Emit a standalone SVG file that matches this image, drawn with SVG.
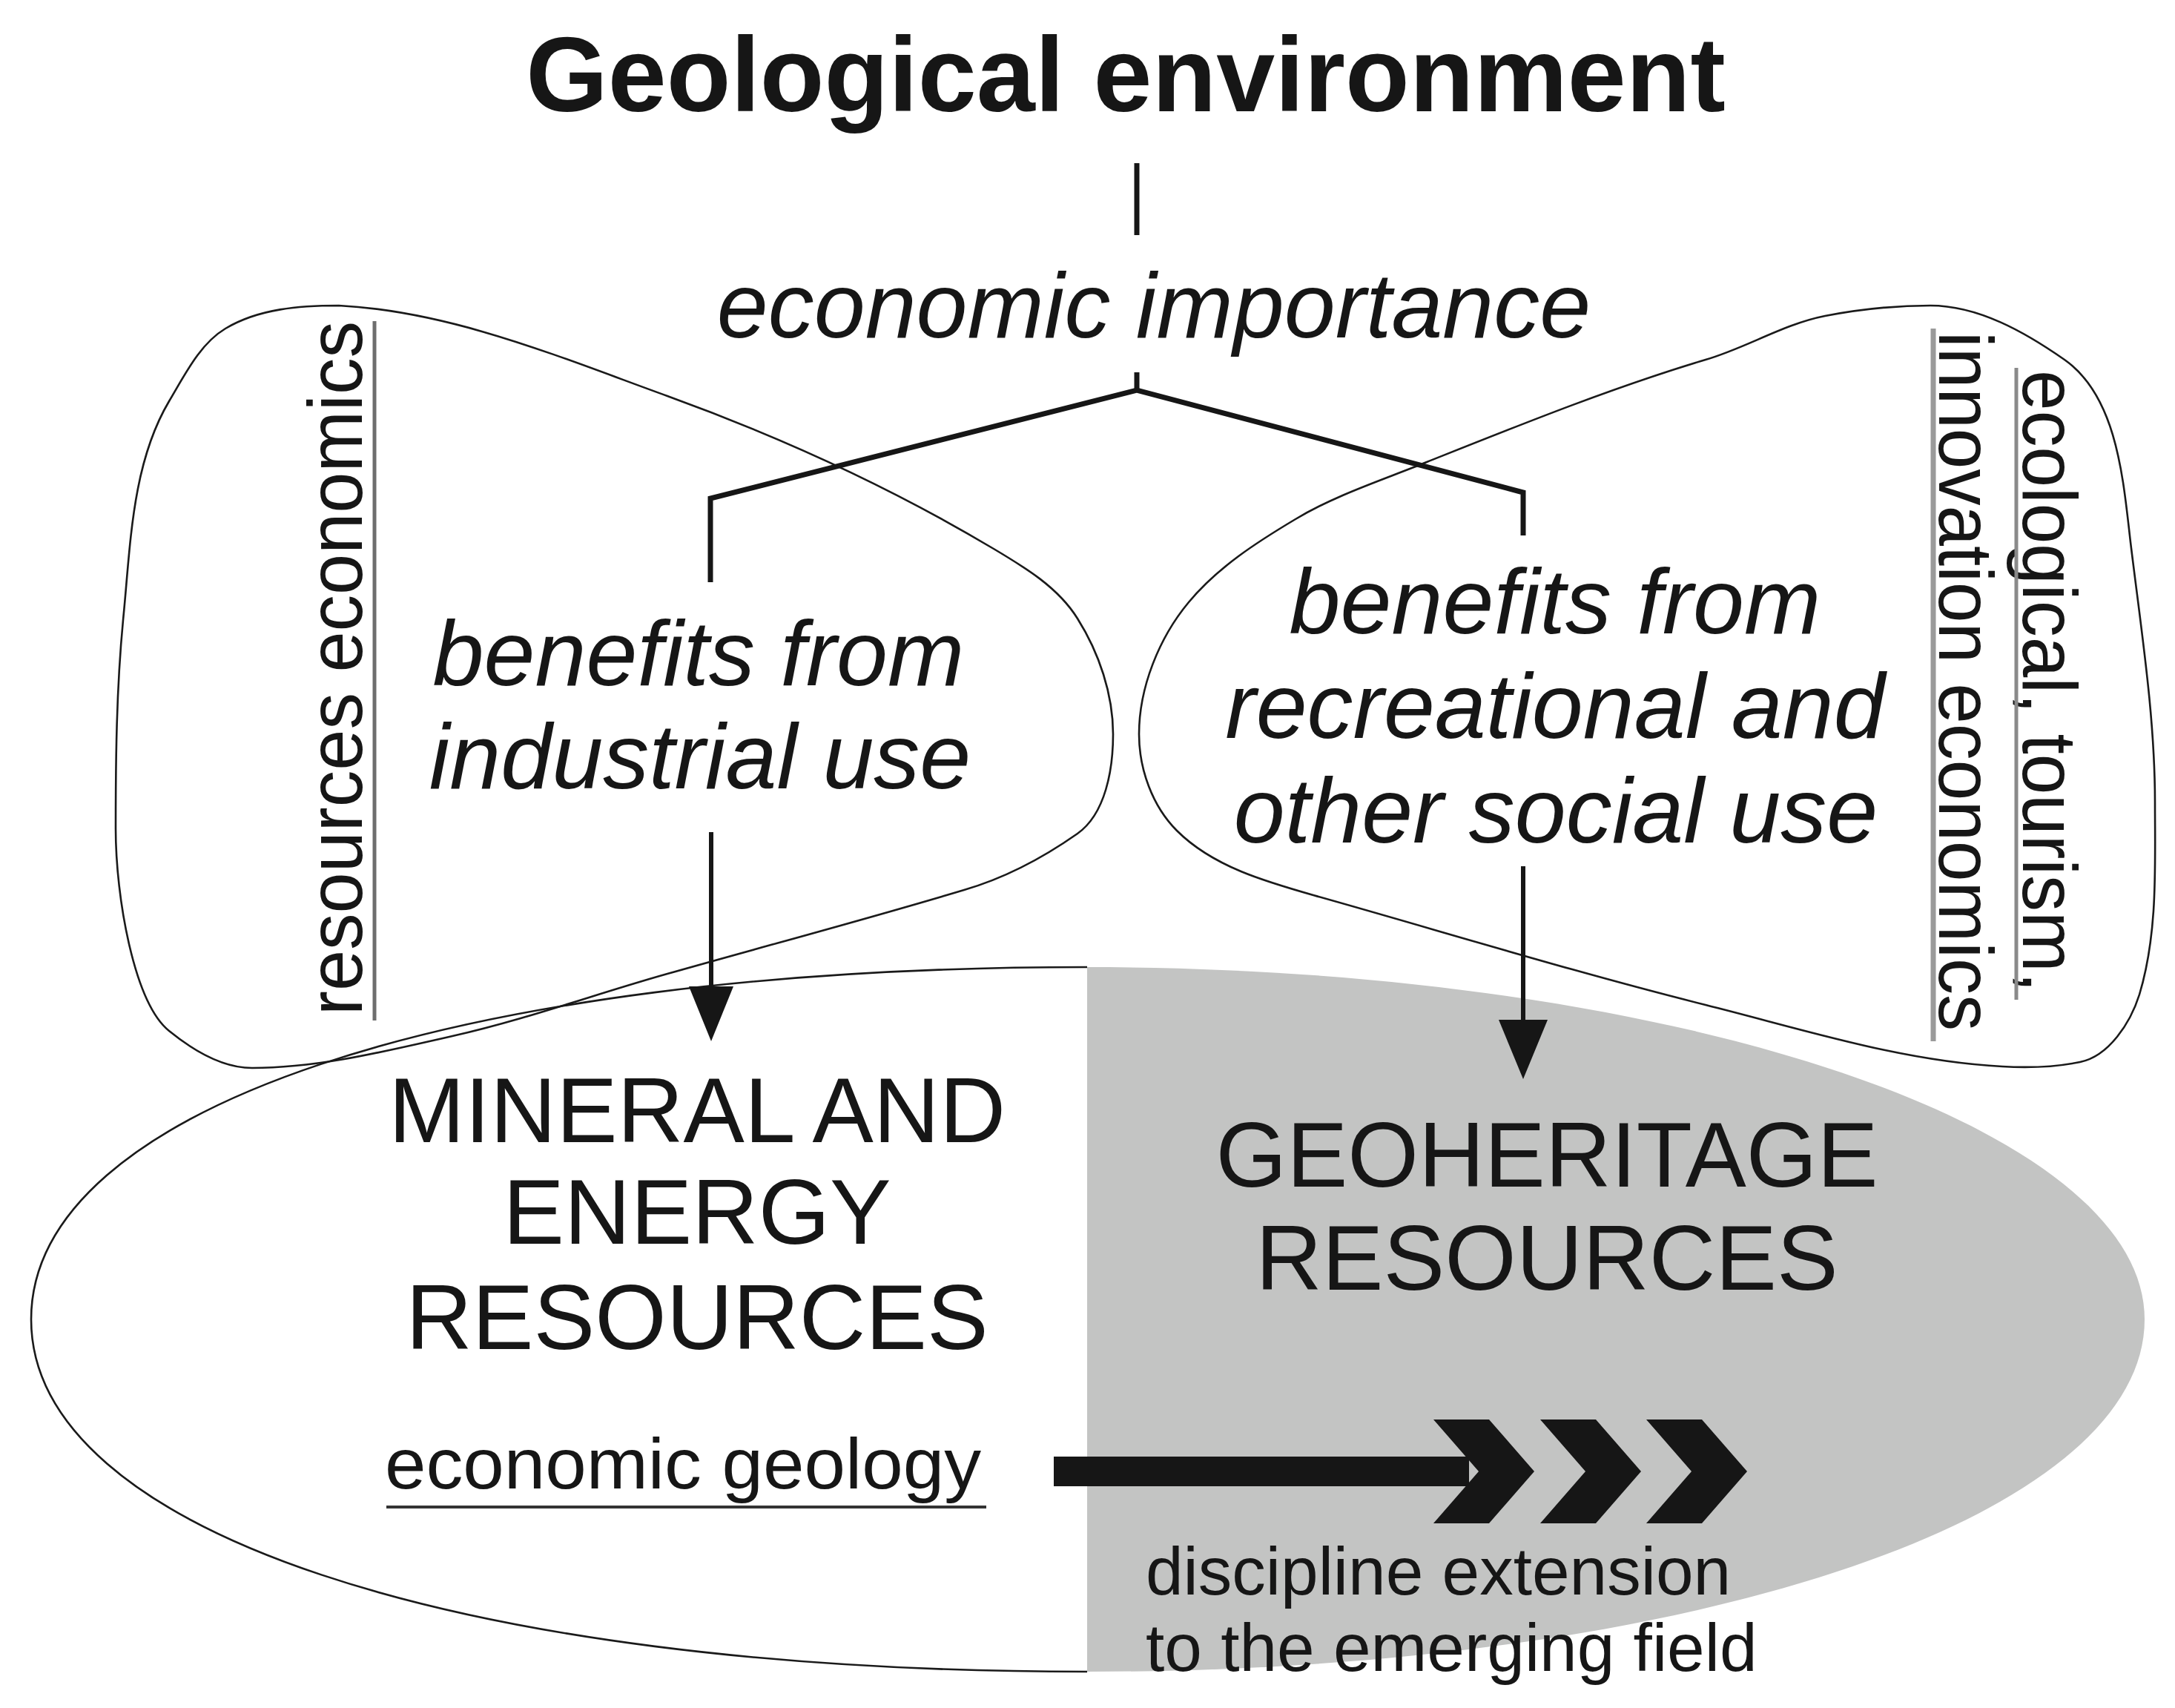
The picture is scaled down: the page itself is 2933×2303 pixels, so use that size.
<svg xmlns="http://www.w3.org/2000/svg" width="2933" height="2303" viewBox="0 0 2933 2303">
<style>
.t{font-family:"Liberation Sans",Arial,sans-serif;fill:#161616}
.it{font-style:italic;font-size:124px}
.cap{font-size:124px}
.side{font-size:104px}
.outline{fill:none;stroke:#1a1a1a;stroke-width:2.6}
.tree{fill:none;stroke:#161616;stroke-width:7;stroke-linejoin:miter}
.arr{fill:none;stroke:#161616;stroke-width:6}
.head{fill:#161616}
</style>
<rect width="2933" height="2303" fill="#ffffff"/>

<g id="resources-field">
  <path d="M1466,1304 C2254,1304 2892,1517 2892,1779 C2892,2050 2270,2254 1466,2254 Z" fill="#c3c4c3"/>
  <path class="outline" d="M1466,1304 C611,1304 42,1494 42,1779 C42,2064 611,2254 1466,2254"/>
</g>

<g id="blob-resources-economics">
  <path class="outline" d="M457,412 C610,420 756,482 900,534 C1052,589 1201,657 1340,740 C1382,765 1427,792 1453,834 C1482,880 1501,936 1501,990 C1501,1037 1491,1097 1453,1124 C1406,1157 1355,1184 1300,1200 C1167,1240 1034,1275 900,1313 C804,1340 708,1375 610,1397 C521,1417 431,1440 340,1440 C299,1440 260,1416 228,1390 C181,1352 156,1211 156,1117 C156,1023 157,930 166,836 C176,737 177,627 228,541 C249,506 269,464 304,443 C349,416 405,412 457,412 Z"/>
  <text class="t side" transform="translate(488,1369) rotate(-90)" textLength="936" lengthAdjust="spacingAndGlyphs">resources economics</text>
  <line x1="505" y1="433" x2="505" y2="1376" stroke="#6e6e6e" stroke-width="5"/>
</g>

<g id="blob-ecological">
  <path class="outline" d="M2603,412 C2668,412 2731,448 2784,485 C2855,535 2863,645 2873,731 C2887,847 2906,965 2906,1082 C2906,1169 2910,1258 2885,1341 C2873,1379 2844,1424 2805,1432 C2771,1439 2735,1440 2700,1438 C2564,1431 2432,1388 2300,1355 C2124,1311 1952,1258 1778,1209 C1711,1190 1637,1170 1587,1120 C1554,1087 1536,1037 1536,990 C1536,927 1563,860 1603,812 C1642,765 1695,731 1747,700 C1802,667 1865,647 1924,623 C2047,574 2173,523 2300,485 C2355,469 2405,437 2461,426 C2508,417 2555,412 2603,412 Z"/>
  <text class="t side" transform="translate(2615,447) rotate(90)" textLength="943" lengthAdjust="spacingAndGlyphs">innovation economics</text>
  <line x1="2607" y1="443" x2="2607" y2="1404" stroke="#9a9a9a" stroke-width="7"/>
  <text class="t side" transform="translate(2728,499) rotate(90)" textLength="839" lengthAdjust="spacingAndGlyphs">ecological, tourism,</text>
  <line x1="2719" y1="496" x2="2719" y2="1348" stroke="#8a8a8a" stroke-width="5"/>
</g>

<g id="title">
  <text class="t" x="1518" y="150" text-anchor="middle" font-size="142" font-weight="bold">Geological environment</text>
</g>

<g id="economic-importance">
  <text class="t it" x="1556" y="455" text-anchor="middle">economic importance</text>
</g>

<g id="industrial">
  <text class="t it" x="942" y="924" text-anchor="middle">benefits from</text>
  <text class="t it" x="944" y="1063" text-anchor="middle">industrial use</text>
</g>

<g id="recreational">
  <text class="t it" x="2097" y="854" text-anchor="middle">benefits from</text>
  <text class="t it" x="2097" y="995" text-anchor="middle">recreational and</text>
  <text class="t it" x="2098" y="1136" text-anchor="middle">other social use</text>
</g>

<g id="mineral">
  <text class="t cap" x="940" y="1540" text-anchor="middle" textLength="832" lengthAdjust="spacingAndGlyphs">MINERAL AND</text>
  <text class="t cap" x="940" y="1677" text-anchor="middle">ENERGY</text>
  <text class="t cap" x="940" y="1819" text-anchor="middle">RESOURCES</text>
</g>

<g id="geoheritage">
  <text class="t cap" x="2086" y="1600" text-anchor="middle" textLength="893" lengthAdjust="spacingAndGlyphs">GEOHERITAGE</text>
  <text class="t cap" x="2086" y="1739" text-anchor="middle">RESOURCES</text>
</g>

<g id="economic-geology">
  <text class="t" x="519" y="2007" font-size="96" textLength="804" lengthAdjust="spacingAndGlyphs">economic geology</text>
  <line x1="521" y1="2032" x2="1330" y2="2032" stroke="#333333" stroke-width="4"/>
</g>

<g id="discipline">
  <text class="t" x="1545" y="2150" font-size="91" fill="#2a2a2a">discipline extension</text>
  <text class="t" x="1545" y="2253" font-size="91" fill="#2a2a2a">to the emerging field</text>
</g>

<g id="connectors">
  <line class="tree" x1="1533" y1="220" x2="1533" y2="317" stroke-width="5"/>
  <polyline class="tree" points="1533,502 1533,526"/>
  <polyline class="tree" points="958,785 958,672 1533,526 2054,664 2054,722"/>
  <line class="arr" x1="959" y1="1122" x2="959" y2="1340"/>
  <polygon class="head" points="929,1330 989,1330 959,1404"/>
  <line class="arr" x1="2054" y1="1168" x2="2054" y2="1385"/>
  <polygon class="head" points="2021,1375 2087,1375 2054,1455"/>
  <rect class="head" x="1421" y="1964" width="560" height="40"/>
  <polygon class="head" points="1933,1914 2008,1914 2069,1984 2008,2054 1933,2054 1994,1984"/>
  <polygon class="head" points="2077,1914 2152,1914 2213,1984 2152,2054 2077,2054 2138,1984"/>
  <polygon class="head" points="2220,1914 2295,1914 2356,1984 2295,2054 2220,2054 2281,1984"/>
</g>
</svg>
